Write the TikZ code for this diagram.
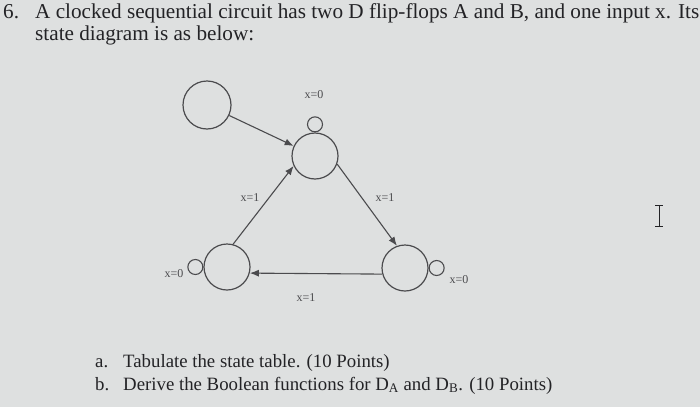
\documentclass[tikz,border=0pt]{standalone}
\usepackage{fontspec}
\setmainfont{Liberation Serif}
\usetikzlibrary{arrows.meta,positioning}
\definecolor{paper}{RGB}{222,224,224}
\definecolor{ink}{RGB}{35,35,38}
\definecolor{wire}{RGB}{75,75,78}
\begin{document}
\begin{tikzpicture}[x=1pt, y=-1pt,
  state/.style={circle, draw=wire, line width=1.2pt, inner sep=0pt, minimum size=46pt},
  selfloop/.style={circle, draw=wire, line width=1.1pt, inner sep=0pt, minimum size=15pt},
  trans/.style={draw=wire, line width=1.1pt, -{Latex[length=9pt,width=7pt]}},
  cond/.style={font=\fontsize{12}{12}\selectfont, text=wire, inner sep=0pt},
  qline/.style={anchor=base west, inner sep=0pt, font=\fontsize{21.2}{21.2}\selectfont, text=ink},
  part/.style={anchor=base west, inner sep=0pt, font=\fontsize{18.8}{18.8}\selectfont, text=ink}]
\fill [paper] (0,0) rectangle (700,407);
\useasboundingbox (0,0) rectangle (700,407);
\node [qline] (num) at (3,18) {6.};
\node [qline] (q1) at (35,18) {A clocked sequential circuit has two D flip-flops A and B, and one input x. Its};
\node [qline] (q2) at (35,40) {state diagram is as below:};
\node [state, minimum size=48pt] (init) at (207,105) {};
\node [state] (s0) at (315,156) {};
\node [state] (s1) at (227,267) {};
\node [state] (s2) at (405,268) {};
\node [selfloop, above=0pt of s0] (loop0) {};
\node [selfloop, left=0pt of s1] (loop1) {};
\node [selfloop, right=0pt of s2] (loop2) {};
\draw [trans] (init) -- (s0);
\draw [trans] (s1.75) -- (s0.205);
\draw [trans] (s0.-20) -- (s2.110);
\draw [trans] (s2.195) -- (s1.345);
\node [cond] (c0) at (314,95) {x=0};
\node [cond] (c1) at (174,274) {x=0};
\node [cond] (c2) at (459,280) {x=0};
\node [cond] (c10) at (250,198) {x=1};
\node [cond] (c02) at (385,198) {x=1};
\node [cond] (c21) at (306,298) {x=1};
\draw [ink, line width=1pt] (659,205) -- (659,226) (655,205) -- (663,205) (655,226) -- (663,226);
\node [part] (pa) at (95,367) {a.};
\node [part] (ta) at (123,367) {Tabulate the state table. (10 Points)};
\node [part] (pb) at (95,390) {b.};
\node [part] (tb) at (123,390) {Derive the Boolean functions for D\textsubscript{A} and D\textsubscript{B}. (10 Points)};
\end{tikzpicture}
\end{document}
